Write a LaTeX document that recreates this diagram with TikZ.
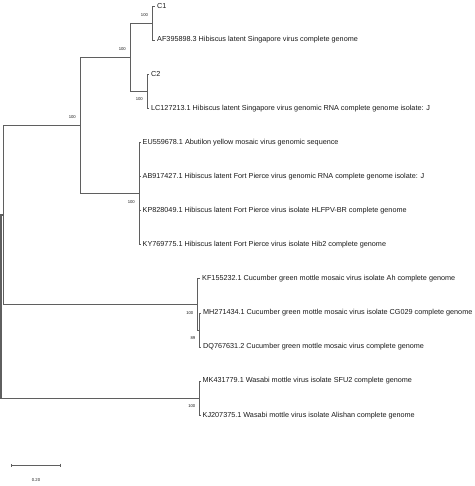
\documentclass[tikz,border=0pt]{standalone}
\usepackage{fontspec}
\setmainfont{Liberation Sans}
\usetikzlibrary{arrows.meta, positioning}
\definecolor{branch}{RGB}{95,95,95}
\definecolor{labeltext}{RGB}{25,25,25}

\begin{document}
\begin{tikzpicture}[x=1pt, y=-1pt,
  branch/.style={draw=branch, line width=0.8pt},
  leaf/.style={anchor=west, inner sep=2pt, text=labeltext, font=\fontsize{7.25}{8}\selectfont},
  boot/.style={inner sep=0pt, text=labeltext, font=\fontsize{4.2}{5}\selectfont}]
  \useasboundingbox (0,0) rectangle (474,486);
  % Leaves
  \node[leaf] (c1) at (155,6.0) {C1};
  \node[leaf] (af) at (155,40.1) {AF395898.3 Hibiscus latent Singapore virus complete genome};
  \node[leaf] (c2) at (149,74.2) {C2};
  \node[leaf] (lc) at (149,108.3) {LC127213.1 Hibiscus latent Singapore virus genomic RNA complete genome isolate: J};
  \node[leaf] (eu) at (140.5,142.4) {EU559678.1 Abutilon yellow mosaic virus genomic sequence};
  \node[leaf] (ab) at (140.5,176.5) {AB917427.1 Hibiscus latent Fort Pierce virus genomic RNA complete genome isolate: J};
  \node[leaf] (kp) at (140.5,210.6) {KP828049.1 Hibiscus latent Fort Pierce virus isolate HLFPV-BR complete genome};
  \node[leaf] (ky) at (140.5,244.7) {KY769775.1 Hibiscus latent Fort Pierce virus isolate Hib2 complete genome};
  \node[leaf] (kf) at (200,278.8) {KF155232.1 Cucumber green mottle mosaic virus isolate Ah complete genome};
  \node[leaf] (mh) at (201,312.9) {MH271434.1 Cucumber green mottle mosaic virus isolate CG029 complete genome};
  \node[leaf] (dq) at (201,347.0) {DQ767631.2 Cucumber green mottle mosaic virus complete genome};
  \node[leaf] (mk) at (200.5,381.1) {MK431779.1 Wasabi mottle virus isolate SFU2 complete genome};
  \node[leaf] (kj) at (200.5,415.2) {KJ207375.1 Wasabi mottle virus isolate Alishan complete genome};
  % Internal nodes
  \coordinate (sgA) at (152.7,23.05);
  \coordinate (sgB) at (147,91.25);
  \coordinate (sing) at (130,57.15);
  \coordinate (fp) at (139,193.55);
  \coordinate (hib) at (80,125.35);
  \coordinate (cgB) at (199.5,329.95);
  \coordinate (cg) at (197.5,304.4);
  \coordinate (hibcg) at (3.7,214.9);
  \coordinate (wa) at (199.5,398.15);
  \coordinate (root) at (1,306.5);
  % Branches
  \draw[branch] (sgA) |- (c1.west);
  \draw[branch] (sgA) |- (af.west);
  \draw[branch] (sgB) |- (c2.west);
  \draw[branch] (sgB) |- (lc.west);
  \draw[branch] (sing) |- (sgA);
  \draw[branch] (sing) |- (sgB);
  \foreach \lf in {eu,ab,kp,ky}
    \draw[branch] (fp) |- (\lf.west);
  \draw[branch] (hib) |- (sing);
  \draw[branch] (hib) |- (fp);
  \draw[branch] (cgB) |- (mh.west);
  \draw[branch] (cgB) |- (dq.west);
  \draw[branch] (cg) |- (kf.west);
  \draw[branch] (cg) |- (cgB);
  \draw[branch] (hibcg) |- (hib);
  \draw[branch] (hibcg) |- (cg);
  \draw[branch] (wa) |- (mk.west);
  \draw[branch] (wa) |- (kj.west);
  \draw[branch, line width=1.3pt] (root) |- (hibcg);
  \draw[branch, line width=1.3pt] (root) |- (wa);
  % Bootstrap values
  \node[boot, above left=6.5pt and 4.5pt of sgA] (bsA) {100};
  \node[boot, below left=6.5pt and 4pt of sgB] (bsB) {100};
  \node[boot, above left=6.5pt and 4pt of sing] (bsSing) {100};
  \node[boot, above left=6.5pt and 4pt of hib] (bsHib) {100};
  \node[boot, below left=6.5pt and 4pt of fp] (bsFp) {100};
  \node[boot, below left=6.5pt and 4pt of cg] (bsCg) {100};
  \node[boot, below left=6.5pt and 4pt of cgB] (bsCgB) {89};
  \node[boot, below left=6.5pt and 4pt of wa] (bsWa) {100};
  % Scale bar
  \coordinate (barL) at (11,465);
  \coordinate (barR) at (61,465);
  \draw[branch, {Bar[width=3pt]}-{Bar[width=3pt]}] (barL) -- (barR)
    node[boot, midway, below=13pt] (barlbl) {0.20};
\end{tikzpicture}
\end{document}
